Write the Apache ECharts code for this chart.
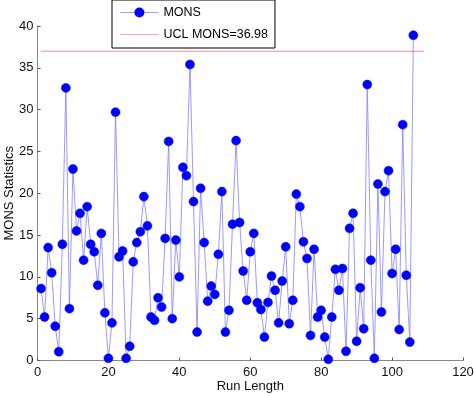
<!DOCTYPE html>
<html>
<head>
<meta charset="utf-8">
<script src="https://cdn.jsdelivr.net/npm/echarts@6/dist/echarts.min.js"></script>
<style>html,body{margin:0;padding:0;background:#fff;}#c{width:474px;height:396px;}</style>
</head>
<body>
<div id="c"></div>
<script>
var runLength = [];
for (var i = 1; i <= 106; i++) runLength.push(i);
var monsValues = [
  8.6, 5.2, 13.5, 10.5, 4.1, 1.05, 13.9, 32.6, 6.2, 22.9,
  15.5, 17.6, 12.0, 18.4, 13.9, 13.0, 9.0, 15.2, 5.7, 0.26,
  4.5, 29.7, 12.4, 13.1, 0.26, 1.7, 11.8, 14.1, 15.4, 19.6,
  16.1, 5.2, 4.8, 7.5, 6.4, 14.6, 26.2, 5.0, 14.4, 10.0,
  23.1, 22.1, 35.4, 19.0, 3.4, 20.6, 14.1, 7.1, 8.9, 7.9,
  12.7, 20.2, 3.4, 6.0, 16.3, 26.3, 16.5, 10.7, 7.2, 13.0,
  15.2, 6.9, 6.1, 2.8, 6.95, 10.1, 8.4, 4.5, 9.5, 13.6,
  4.4, 7.2, 19.9, 18.4, 14.2, 12.2, 3.0, 13.3, 5.2, 6.0,
  2.8, 0.14, 5.2, 10.9, 8.4, 11.0, 1.1, 15.8, 17.6, 2.3,
  8.7, 3.8, 33.0, 12.0, 0.26, 21.1, 5.8, 20.2, 22.7, 10.4,
  13.3, 3.7, 28.2, 10.2, 2.2, 38.9
];
var uclValue = 36.98;
var uclRange = [1, 109];
var xTicks = [0, 20, 40, 60, 80, 100, 120];
var yTicks = [0, 5, 10, 15, 20, 25, 30, 35, 40];

var monsData = runLength.map(function (x, i) { return [x, monsValues[i]]; });
var uclData = uclRange.map(function (x) { return [x, uclValue]; });

var chart = echarts.init(document.getElementById('c'));
var font = 'Liberation Sans, Arial, sans-serif';
chart.setOption({
  animation: false,
  backgroundColor: '#fff',
  grid: { left: 37.5, right: 11, top: 26, bottom: 35.5, containLabel: false, outerBoundsMode: 'none' },
  legend: {
    orient: 'vertical',
    left: 112, top: 0,
    width: 162,
    backgroundColor: '#fff',
    borderColor: '#000', borderWidth: 1,
    padding: [6, 7, 7, 8],
    itemWidth: 38, itemHeight: 10, itemGap: 9,
    textStyle: { fontFamily: font, fontSize: 12.5, color: '#000' },
    data: [
      { name: 'MONS', lineStyle: { width: 0.8 } },
      { name: 'UCL MONS=36.98', itemStyle: { opacity: 0 }, lineStyle: { width: 0.8 } }
    ]
  },
  xAxis: {
    type: 'value', min: xTicks[0], max: xTicks[xTicks.length - 1], interval: 20,
    name: 'Run Length', nameLocation: 'middle', nameGap: 19, nameMoveOverlap: false,
    nameTextStyle: { fontFamily: font, fontSize: 13, color: '#111' },
    axisLine: { show: true, onZero: false, lineStyle: { color: '#888', width: 1 } },
    axisTick: { show: true, inside: true, length: 3, lineStyle: { color: '#555' } },
    axisLabel: { fontFamily: font, fontSize: 13, color: '#111', margin: 5 },
    splitLine: { show: false }
  },
  yAxis: {
    type: 'value', min: yTicks[0], max: yTicks[yTicks.length - 1], interval: 5,
    name: 'MONS Statistics', nameLocation: 'middle', nameGap: 22, nameMoveOverlap: false,
    nameTextStyle: { fontFamily: font, fontSize: 13, color: '#111' },
    axisLine: { show: true, onZero: false, lineStyle: { color: '#888', width: 1 } },
    axisTick: { show: true, inside: true, length: 3, lineStyle: { color: '#555' } },
    axisLabel: { fontFamily: font, fontSize: 13, color: '#111', margin: 4 },
    splitLine: { show: false }
  },
  series: [
    {
      name: 'MONS', type: 'line', data: monsData,
      symbol: 'circle', symbolSize: 9, showSymbol: true,
      itemStyle: { color: '#0000ff', borderColor: '#0000ff', borderWidth: 0.5 },
      lineStyle: { color: '#8080ff', width: 0.8 },
      z: 3
    },
    {
      name: 'UCL MONS=36.98', type: 'line', data: uclData,
      symbol: 'none',
      itemStyle: { color: '#ff7a7a' },
      lineStyle: { color: '#ff8a8a', width: 1 },
      z: 2
    }
  ]
});
</script>
</body>
</html>
